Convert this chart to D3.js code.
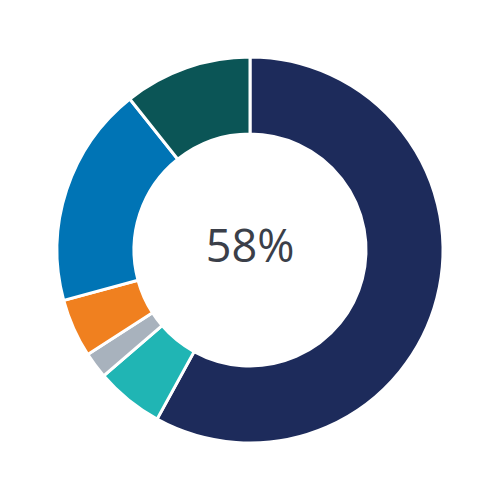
<!DOCTYPE html>
<meta charset="utf-8">
<html>
<head>
  <script src="https://d3js.org/d3.v7.min.js"></script>
  <style>
    body { margin: 0; background: #fff; }
    .center-label {
      font-family: 'Open Sans', sans-serif;
      font-size: 45px;
      fill: #3b3f49;
    }
  </style>
</head>
<body>
  <script>
    // Data, clockwise from 12 o'clock
    var categories = ['A', 'B', 'C', 'D', 'E', 'F'];
    var values = [58, 5.7, 2.2, 4.9, 18.5, 10.7];
    var colors = ['#1d2b5b', '#20b5b4', '#a8b2bd', '#f0801f', '#0074b5', '#0b5556'];
    var centerLabel = '58%';

    var w = 500, h = 500;
    var outerR = 193, innerR = 116;

    var svg = d3.select('body')
      .append('svg')
      .attr('width', w)
      .attr('height', h)
      .append('g')
      .attr('transform', `translate(${w / 2}, ${h / 2})`);

    var data = categories.map((c, i) => ({ cat: c, value: values[i] }));

    var pie = d3.pie()
      .sort(null)
      .value(d => d.value);

    var arc = d3.arc()
      .innerRadius(innerR)
      .outerRadius(outerR);

    var color = d3.scaleOrdinal()
      .domain(categories)
      .range(colors);

    // Slices
    svg.selectAll('path')
      .data(pie(data))
      .enter()
      .append('path')
      .attr('d', arc)
      .attr('fill', d => color(d.data.cat))
      .attr('stroke', '#fff')
      .attr('stroke-width', 3)
      .attr('stroke-linejoin', 'miter');

    // Center text
    svg.append('text')
      .attr('class', 'center-label')
      .attr('text-anchor', 'middle')
      .attr('y', 12)
      .text(centerLabel);
  </script>
</body>
</html>
